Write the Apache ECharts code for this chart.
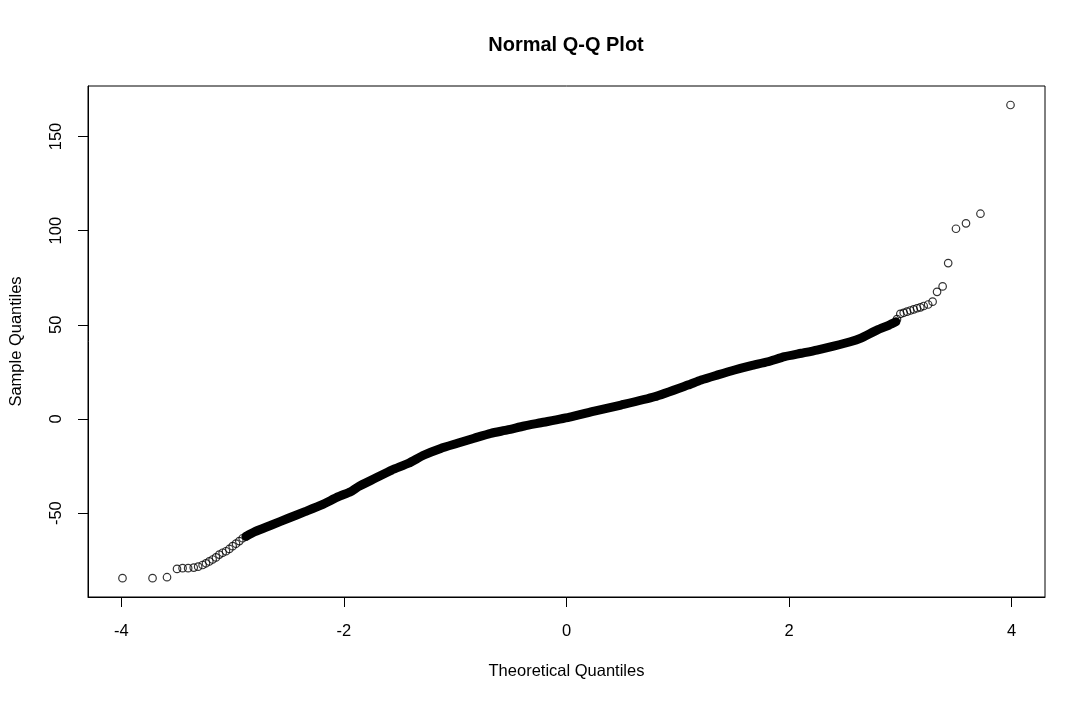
<!DOCTYPE html>
<html>
<head>
<meta charset="utf-8">
<script src="https://cdn.jsdelivr.net/npm/echarts@6/dist/echarts.min.js"></script>
<style>
html,body{margin:0;padding:0;background:#fff;}
#chart{width:1089px;height:704px;}
</style>
</head>
<body>
<div id="chart"></div>
<script>
// Tick labels
const xTicks = [-4, -2, 0, 2, 4];
const yTicks = [-50, 0, 50, 100, 150];

// Lower tail (individual circles): theoretical / sample quantiles
const lowTailX = [-3.99, -3.72, -3.59, -3.50, -3.45, -3.40, -3.35, -3.31, -3.27, -3.24, -3.21, -3.18, -3.15, -3.12, -3.09, -3.06, -3.03, -3.00, -2.97, -2.94, -2.91, -2.88];
const lowTailY = [-84.5, -84.5, -84.0, -79.6, -79.2, -79.2, -78.9, -78.4, -77.5, -76.6, -75.6, -74.6, -73.5, -72.0, -71.0, -70.2, -69.0, -67.5, -66.2, -64.8, -63.3, -62.3];

// Dense body (thousands of overlapping circles) read along the band
const bodyX = [-2.88, -2.80, -2.65, -2.50, -2.35, -2.20, -2.05, -1.94, -1.87, -1.72, -1.57, -1.42, -1.28, -1.13, -0.98, -0.83, -0.68, -0.53, -0.38, -0.23, 0.04, 0.25, 0.49, 0.79, 1.09, 1.21, 1.36, 1.51, 1.66, 1.81, 1.96, 2.11, 2.25, 2.40, 2.55, 2.64, 2.79, 2.90, 2.96];
const bodyY = [-62.3, -59.8, -56.3, -52.7, -49.2, -45.6, -41.2, -38.6, -35.9, -31.5, -27.1, -23.5, -19.1, -15.6, -12.9, -10.2, -7.6, -5.8, -3.7, -2.0, 1.1, 4.2, 7.4, 11.8, 18.0, 20.7, 23.4, 26.0, 28.3, 30.4, 33.1, 34.9, 36.6, 38.7, 41.0, 42.8, 47.2, 49.9, 51.6];

// Upper tail (individual circles)
const highTailX = [2.97, 3.00, 3.03, 3.06, 3.09, 3.12, 3.15, 3.18, 3.21, 3.25, 3.29, 3.33, 3.38, 3.43, 3.50, 3.59, 3.72, 3.99];
const highTailY = [53.0, 55.8, 56.4, 57.0, 57.6, 58.2, 58.8, 59.3, 60.0, 60.8, 62.3, 67.5, 70.4, 82.8, 101.0, 103.9, 109.0, 166.7];

const zip = (a, b) => a.map((v, i) => [v, b[i]]);
const FONT = '"Liberation Sans", Arial, sans-serif';

const chart = echarts.init(document.getElementById('chart'), null, {renderer: 'canvas'});
chart.setOption({
  animation: false,
  backgroundColor: '#fff',
  title: {
    text: 'Normal Q-Q Plot',
    left: 561, top: 30, textAlign: 'center',
    textStyle: {fontFamily: FONT, fontWeight: 'bold', fontSize: 20, color: '#000'}
  },
  grid: {left: 86, right: 44, top: 86, bottom: 107, show: true, borderColor: '#000', borderWidth: 1, backgroundColor: 'transparent'},
  xAxis: {
    type: 'value', min: -4.3, max: 4.3,
    name: 'Theoretical Quantiles', nameLocation: 'middle', nameGap: 66,
    nameTextStyle: {fontFamily: FONT, fontSize: 16.5, color: '#000'},
    axisLine: {show: true, onZero: false, lineStyle: {color: '#000', width: 1}},
    axisTick: {show: true, length: 10, inside: false, customValues: xTicks, lineStyle: {color: '#000'}},
    axisLabel: {customValues: xTicks, margin: 26, fontFamily: FONT, fontSize: 16.5, color: '#000'},
    splitLine: {show: false}
  },
  yAxis: {
    type: 'value', min: -94.5, max: 176.8,
    name: 'Sample Quantiles', nameLocation: 'middle', nameGap: 63, nameRotate: 90,
    nameTextStyle: {fontFamily: FONT, fontSize: 16.5, color: '#000'},
    axisLine: {show: true, onZero: false, lineStyle: {color: '#000', width: 1}},
    axisTick: {show: true, length: 10, inside: false, customValues: yTicks, lineStyle: {color: '#000'}},
    axisLabel: {customValues: yTicks, rotate: 90, margin: 23, fontFamily: FONT, fontSize: 16.5, color: '#000'},
    splitLine: {show: false}
  },
  series: [
    {
      type: 'line', data: zip(bodyX, bodyY), symbol: 'none', smooth: 0.2,
      lineStyle: {color: '#000', width: 9, cap: 'round', join: 'round'}, z: 2
    },
    {
      type: 'scatter', data: zip(lowTailX, lowTailY), symbol: 'circle', symbolSize: 7.5,
      itemStyle: {color: 'rgba(0,0,0,0)', borderColor: '#000', borderWidth: 1.2}, z: 3
    },
    {
      type: 'scatter', data: zip(highTailX, highTailY), symbol: 'circle', symbolSize: 7.5,
      itemStyle: {color: 'rgba(0,0,0,0)', borderColor: '#000', borderWidth: 1.2}, z: 3
    }
  ]
});
</script>
</body>
</html>
